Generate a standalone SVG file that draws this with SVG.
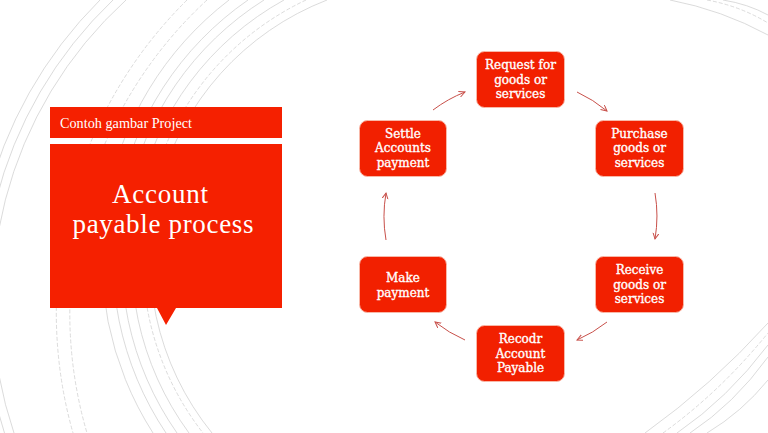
<svg xmlns="http://www.w3.org/2000/svg" width="768" height="433" viewBox="0 0 768 433">
<defs>
<style>
.bg{fill:none;stroke:#d2d2d2;stroke-width:0.8}
.dash{stroke-dasharray:4 2}
.node rect{fill:#F22000;stroke:#F8B8A8;stroke-width:1}
.node text{font-family:"DejaVu Serif",serif;font-size:12px;fill:#fff;stroke:#fff;stroke-width:0.35;text-anchor:middle}
.conn path{fill:none;stroke:#C8504A;stroke-width:1;marker-end:url(#ah)}
</style>
<marker id="ah" markerWidth="8" markerHeight="8" refX="6" refY="3" orient="auto" markerUnits="userSpaceOnUse">
<path d="M0,0 L6,3 L0,6" fill="none" stroke="#C8504A" stroke-width="1"/>
</marker>
</defs>
<rect width="768" height="433" fill="#fff"/>
<g id="background">
<path class="bg" d="M100,0 A425.7,425.7 0 0,0 -5,433"/>
<path class="bg" d="M113,0 A416.6,416.6 0 0,0 4.5,433"/>
<path class="bg" d="M126,0 A408,408 0 0,0 14,433"/>
<path class="bg dash" d="M187,0 A440,440 0 0,0 73,433"/>
<path class="bg dash" d="M207,0 A426,426 0 0,0 87,433"/>
<path class="bg" d="M229,0 A325,325 0 0,0 153,433"/>
<path class="bg" d="M248,0 A314,314 0 0,0 166,433"/>
<path class="bg" d="M264,0 A305,305 0 0,0 177,433"/>
<path class="bg" d="M284,0 A295,295 0 0,0 189,433"/>
<path class="bg dash" d="M306,0 A285,285 0 0,0 203,433"/>
<path class="bg" d="M327,0 A277,277 0 0,0 212,433"/>
<path class="bg" d="M670,0 Q722,10 768,35"/>
<path class="bg dash" d="M707,0 Q740,6 768,23"/>
<path class="bg" d="M723,0 Q748,4 768,15"/>
<path class="bg" d="M645,433 Q712,385 768,323"/>
<path class="bg dash" d="M663,433 Q720,392 768,333"/>
<path class="bg" d="M677,433 Q728,398 768,345"/>
<path class="bg" d="M690,433 Q734,404 768,357"/>
<path class="bg" d="M707,433 Q742,412 768,380"/>
</g>
<g id="title-panel">
<rect x="50" y="107" width="232" height="31" fill="#F52000"/>
<text x="60" y="128" font-family="Liberation Serif, serif" font-size="14" fill="#fff" textLength="132" lengthAdjust="spacingAndGlyphs">Contoh gambar Project</text>
<path d="M50,144 H282 V308 H176 L166,325 L157,308 H50 Z" fill="#F52000"/>
<text x="160" y="203" font-family="Liberation Serif, serif" font-size="27" fill="#fff" text-anchor="middle" textLength="96" lengthAdjust="spacing">Account</text>
<text x="163" y="233" font-family="Liberation Serif, serif" font-size="27" fill="#fff" text-anchor="middle" textLength="181" lengthAdjust="spacing">payable process</text>
</g>
<g class="conn" id="connectors">
<path d="M433,110 A137,137 0 0,1 465,92"/>
<path d="M577,92 A137,137 0 0,1 607,111"/>
<path d="M655,193 A137,137 0 0,1 655,239"/>
<path d="M607,322 A137,137 0 0,1 577,340"/>
<path d="M465,340 A137,137 0 0,1 435,322"/>
<path d="M386,240 A137,137 0 0,1 386,193"/>
</g>
<g class="node" id="node-request">
<rect x="476.5" y="51.5" width="88" height="56" rx="8"/>
<text x="520.5" y="69">Request for</text>
<text x="520.5" y="83.5">goods or</text>
<text x="520.5" y="98">services</text>
</g>
<g class="node" id="node-purchase">
<rect x="595.5" y="120.5" width="88" height="56" rx="8"/>
<text x="639.5" y="137.5">Purchase</text>
<text x="639.5" y="152">goods or</text>
<text x="639.5" y="166.5">services</text>
</g>
<g class="node" id="node-receive">
<rect x="595.5" y="256.5" width="88" height="56" rx="8"/>
<text x="639.5" y="274">Receive</text>
<text x="639.5" y="288.5">goods or</text>
<text x="639.5" y="303">services</text>
</g>
<g class="node" id="node-record">
<rect x="476.5" y="325.5" width="88" height="56" rx="8"/>
<text x="520.5" y="343">Recodr</text>
<text x="520.5" y="357.5">Account</text>
<text x="520.5" y="372">Payable</text>
</g>
<g class="node" id="node-make">
<rect x="359.5" y="256.5" width="87" height="56" rx="8"/>
<text x="403" y="282">Make</text>
<text x="403" y="296.5">payment</text>
</g>
<g class="node" id="node-settle">
<rect x="359.5" y="120.5" width="87" height="56" rx="8"/>
<text x="403" y="137.5">Settle</text>
<text x="403" y="152">Accounts</text>
<text x="403" y="166.5">payment</text>
</g>
</svg>
